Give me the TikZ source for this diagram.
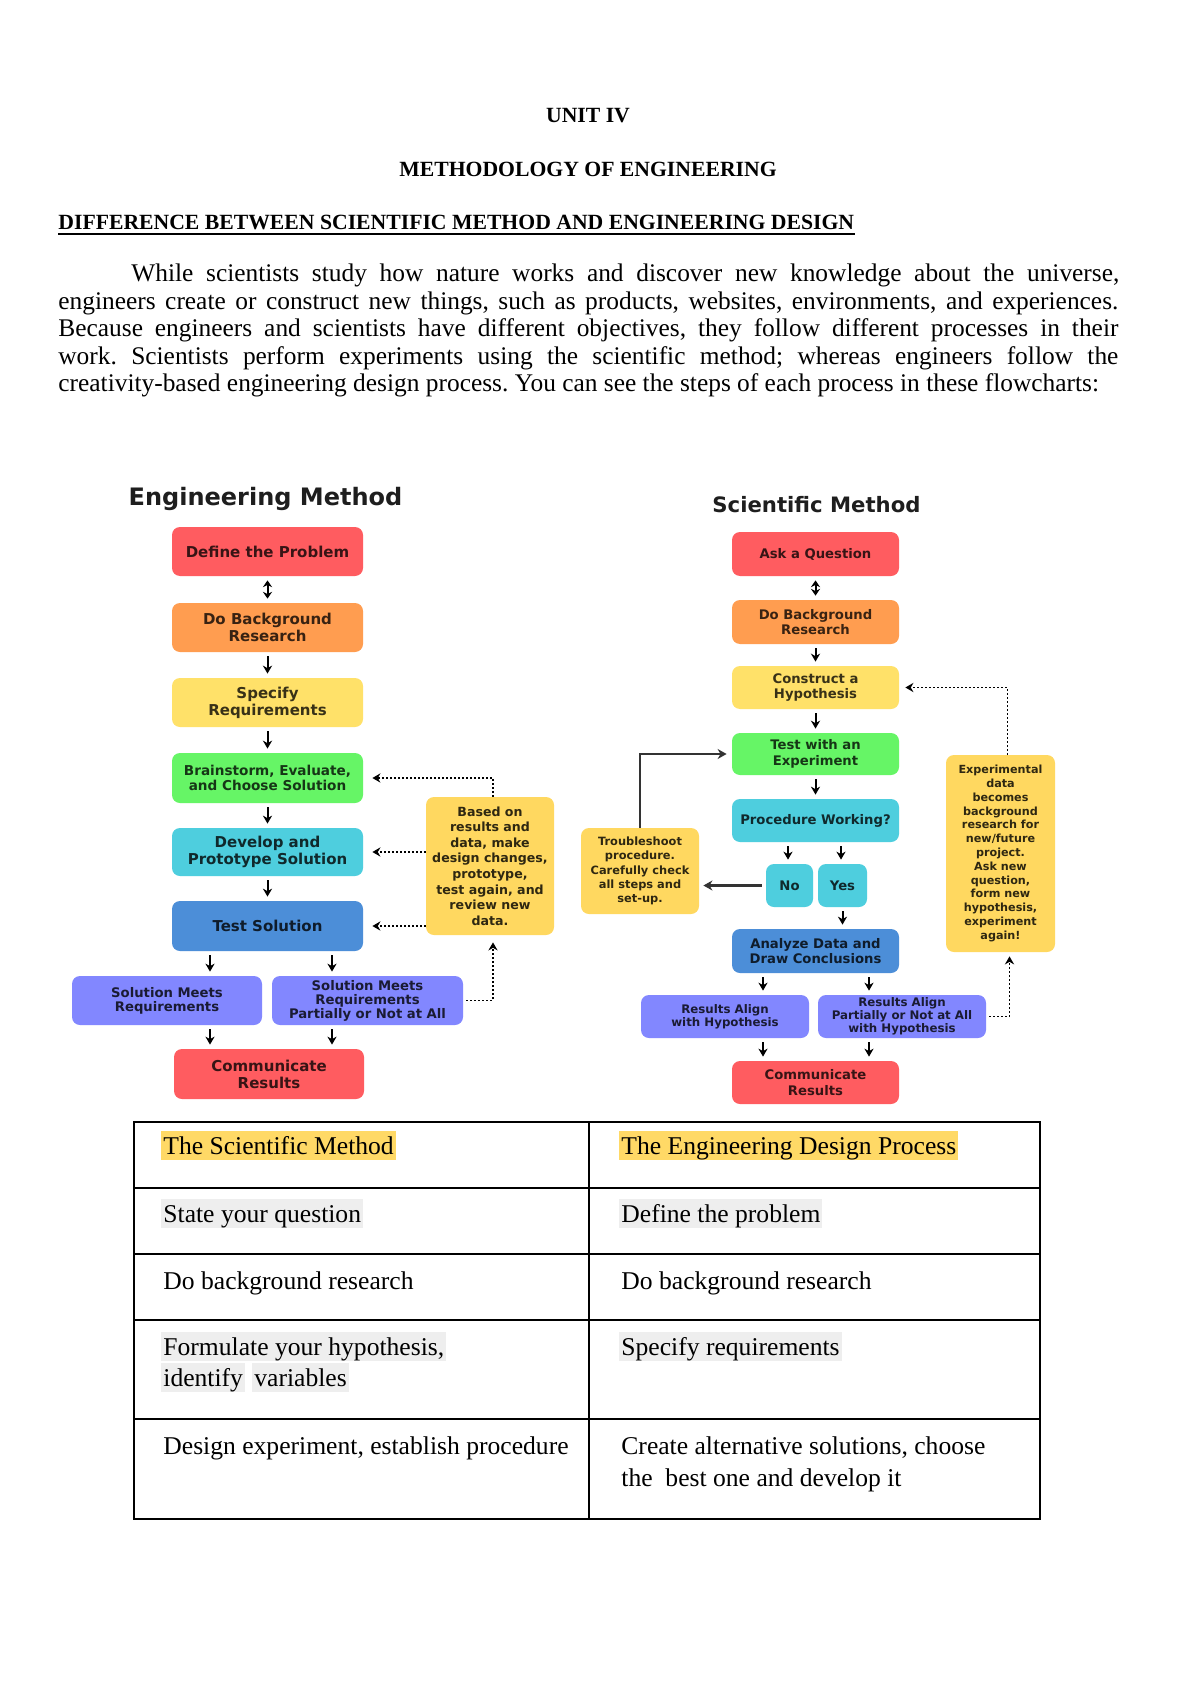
\documentclass[tikz,border=0pt]{standalone}
\usepackage{fontspec}
\setmainfont{Liberation Serif}
\newfontfamily\djv{DejaVu Sans}
\usetikzlibrary{arrows.meta,calc}
\frenchspacing

\definecolor{cRed}{RGB}{255,92,96}
\definecolor{cOrange}{RGB}{255,157,80}
\definecolor{cYellow}{RGB}{255,225,105}
\definecolor{cFb}{RGB}{255,216,96}
\definecolor{cGreen}{RGB}{102,245,102}
\definecolor{cCyan}{RGB}{78,206,222}
\definecolor{cBlue}{RGB}{76,142,216}
\definecolor{cPurple}{RGB}{130,135,255}
\definecolor{hlYellow}{RGB}{255,217,102}
\definecolor{hlGray}{RGB}{238,238,238}
\definecolor{ttl}{RGB}{30,30,30}

\newcommand{\emain}{\djv\bfseries\fontsize{7.5}{8.5}\selectfont}
\newcommand{\ebrain}{\djv\bfseries\fontsize{6.8}{7.6}\selectfont}
\newcommand{\esub}{\djv\bfseries\fontsize{6.6}{7}\selectfont}
\newcommand{\efbf}{\djv\bfseries\fontsize{6.3}{7.8}\selectfont}
\newcommand{\smain}{\djv\bfseries\fontsize{6.6}{7.9}\selectfont}
\newcommand{\sraf}{\djv\bfseries\fontsize{5.9}{6.4}\selectfont}
\newcommand{\strbf}{\djv\bfseries\fontsize{5.7}{7.2}\selectfont}
\newcommand{\sfbf}{\djv\bfseries\fontsize{5.6}{6.9}\selectfont}
\newcommand{\bodyf}{\fontsize{12.7}{15}\selectfont}
\newcommand{\headf}{\bfseries\fontsize{10.85}{13}\selectfont}
\newcommand{\tabf}{\fontsize{12.8}{15}\selectfont}

\tikzset{
  bx/.style={rounded corners=4pt, inner sep=0pt, align=center},
  arr/.style={-{Stealth[length=4pt,width=4.6pt]}, line width=1pt, shorten <=2pt, shorten >=2pt},
  darr/.style={{Stealth[length=3.4pt,width=4.6pt]}-{Stealth[length=3.4pt,width=4.6pt]}, line width=1pt, shorten <=2pt, shorten >=2pt},
  dotarr/.style={-{Stealth[length=4pt,width=4.6pt]}, line width=0.8pt, dash pattern=on 1pt off 1pt},
  solarr/.style={-{Stealth[length=4.5pt,width=5pt]}, line width=1.2pt, draw=black!80},
  txt/.style={inner sep=0pt, anchor=base west},
  hl/.style={inner xsep=1pt, inner ysep=0pt, anchor=base west, text height=11.6pt, text depth=3.2pt, font=\tabf},
}

\begin{document}
\begin{tikzpicture}[x=0.5pt,y=-0.5pt]
\fill[white] (0,0) rectangle (1200,1695);
\useasboundingbox (0,0) rectangle (1200,1695);

% ---------------- header text ----------------
\node[inner sep=0pt, anchor=base, font=\headf] (unit) at (588,122.5) {UNIT IV};
\node[inner sep=0pt, anchor=base, font=\headf] (meth) at (588,176.5) {METHODOLOGY OF ENGINEERING};
\node[txt, font=\headf] (diff) at (58,230) {DIFFERENCE BETWEEN SCIENTIFIC METHOD AND ENGINEERING DESIGN};
\draw[line width=0.6pt] ([yshift=-2pt]diff.base west) -- ([yshift=-2pt]diff.base east);

\node[txt, font=\bodyf] (p1) at (131,282) {\makebox[494pt][s]{While scientists study how nature works and discover new knowledge about the universe,}};
\node[txt, font=\bodyf] (p2) at (58,309.5) {\makebox[530pt][s]{engineers create or construct new things, such as products, websites, environments, and experiences.}};
\node[txt, font=\bodyf] (p3) at (58,337) {\makebox[530pt][s]{Because engineers and scientists have different objectives, they follow different processes in their}};
\node[txt, font=\bodyf] (p4) at (58,364.5) {\makebox[530pt][s]{work. Scientists perform experiments using the scientific method; whereas engineers follow the}};
\node[txt, font=\bodyf] (p5) at (58,392) {creativity-based engineering design process. You can see the steps of each process in these flowcharts:};

% ---------------- Engineering Method ----------------
\node[inner sep=0pt, anchor=base, text=ttl, font=\djv\bfseries\fontsize{12}{14}\selectfont] (etitle) at (265.5,505) {Engineering Method};

\node[bx, fill=cRed, text=cRed!22!black, minimum width=95.5pt, minimum height=24.5pt, font=\emain] (def) at (267.5,551.5) {Define the Problem};
\node[bx, fill=cOrange, text=cOrange!22!black, minimum width=95.5pt, minimum height=24.5pt, font=\emain] (ebg) at (267.5,627.5) {Do Background\\Research};
\node[bx, fill=cYellow, text=cYellow!22!black, minimum width=95.5pt, minimum height=24.5pt, font=\emain] (spec) at (267.5,702.5) {Specify\\Requirements};
\node[bx, fill=cGreen, text=cGreen!22!black, minimum width=95.5pt, minimum height=25pt, font=\ebrain] (brain) at (267.5,778) {Brainstorm, Evaluate,\\and Choose Solution};
\node[bx, fill=cCyan, text=cCyan!20!black, minimum width=95.5pt, minimum height=24pt, font=\emain] (dev) at (267.5,852) {Develop and\\Prototype Solution};
\node[bx, fill=cBlue, text=cBlue!20!black, minimum width=95.5pt, minimum height=25pt, font=\emain] (test) at (267.5,926) {Test Solution};
\node[bx, fill=cPurple, text=cPurple!20!black, minimum width=95pt, minimum height=24.5pt, font=\esub] (smr) at (167,1000.5) {Solution Meets\\Requirements};
\node[bx, fill=cPurple, text=cPurple!20!black, minimum width=95.5pt, minimum height=24.5pt, font=\esub] (smp) at (367.5,1000.5) {Solution Meets\\Requirements\\Partially or Not at All};
\node[bx, fill=cRed, text=cRed!22!black, minimum width=95pt, minimum height=25pt, font=\emain] (ecom) at (269,1074) {Communicate\\Results};
\node[bx, fill=cFb, text=cFb!18!black, minimum width=64pt, minimum height=69pt, font=\efbf] (efb) at (490,866) {Based on\\results and\\data, make\\design changes,\\prototype,\\test again, and\\review new\\data.};

\coordinate (ex1) at (210,0);
\coordinate (ex2) at (332,0);

\draw[darr] (def.south) -- (ebg.north);
\draw[arr] (ebg.south) -- (spec.north);
\draw[arr] (spec.south) -- (brain.north);
\draw[arr] (brain.south) -- (dev.north);
\draw[arr] (dev.south) -- (test.north);
\draw[arr] (test.south -| ex1) -- (smr.north -| ex1);
\draw[arr] (test.south -| ex2) -- (smp.north -| ex2);
\draw[arr] (smr.south -| ex1) -- (ecom.north -| ex1);
\draw[arr] (smp.south -| ex2) -- (ecom.north -| ex2);

\draw[dotarr, shorten >=4.5pt] ([xshift=1.5pt]efb.north) |- (brain.east);
\draw[dotarr, shorten >=4.5pt] (efb.west |- dev.east) -- (dev.east);
\draw[dotarr, shorten >=4.5pt] (efb.west |- test.east) -- (test.east);
\draw[dotarr, shorten <=1.5pt, shorten >=3.5pt] (smp.east) -| ([xshift=1.5pt]efb.south);

% ---------------- Scientific Method ----------------
\node[inner sep=0pt, anchor=base, text=ttl, font=\djv\bfseries\fontsize{10.6}{12}\selectfont] (stitle) at (816.5,512) {Scientific Method};

\node[bx, fill=cRed, text=cRed!22!black, minimum width=83.5pt, minimum height=22pt, font=\smain] (ask) at (815.5,554) {Ask a Question};
\node[bx, fill=cOrange, text=cOrange!22!black, minimum width=83.5pt, minimum height=22pt, font=\smain] (sbg) at (815.5,622) {Do Background\\Research};
\node[bx, fill=cYellow, text=cYellow!22!black, minimum width=83.5pt, minimum height=21.5pt, font=\smain] (hyp) at (815.5,687.5) {Construct a\\Hypothesis};
\node[bx, fill=cGreen, text=cGreen!22!black, minimum width=83.5pt, minimum height=21pt, font=\smain] (exp) at (815.5,754) {Test with an\\Experiment};
\node[bx, fill=cCyan, text=cCyan!20!black, minimum width=83.5pt, minimum height=21.5pt, font=\smain] (proc) at (815.5,820.5) {Procedure Working?};
\node[bx, fill=cCyan, text=cCyan!20!black, minimum width=23.5pt, minimum height=21.5pt, font=\smain] (no) at (789.5,885.5) {No};
\node[bx, fill=cCyan, text=cCyan!20!black, minimum width=24.5pt, minimum height=21.5pt, font=\smain] (yes) at (842.5,885.5) {Yes};
\node[bx, fill=cBlue, text=cBlue!20!black, minimum width=83.5pt, minimum height=22pt, font=\smain] (ana) at (815.5,951) {Analyze Data and\\Draw Conclusions};
\node[bx, fill=cPurple, text=cPurple!20!black, minimum width=84pt, minimum height=21.5pt, font=\sraf] (ra1) at (725,1016.5) {Results Align\\with Hypothesis};
\node[bx, fill=cPurple, text=cPurple!20!black, minimum width=84pt, minimum height=21.5pt, font=\sraf] (ra2) at (902,1016.5) {Results Align\\Partially or Not at All\\with Hypothesis};
\node[bx, fill=cRed, text=cRed!22!black, minimum width=83.5pt, minimum height=21.5pt, font=\smain] (scom) at (815.5,1082.5) {Communicate\\Results};
\node[bx, fill=cFb, text=cFb!18!black, minimum width=59pt, minimum height=43pt, font=\strbf] (trb) at (640,871) {Troubleshoot\\procedure.\\Carefully check\\all steps and\\set-up.};
\node[bx, fill=cFb, text=cFb!18!black, minimum width=54.5pt, minimum height=98.5pt, font=\sfbf] (sfb) at (1000.5,853.5) {Experimental\\data\\becomes\\background\\research for\\new/future\\project.\\Ask new\\question,\\form new\\hypothesis,\\experiment\\again!};

\coordinate (sx1) at (788,0);
\coordinate (sx2) at (841,0);
\coordinate (sx3) at (763,0);
\coordinate (sx4) at (869,0);

\draw[darr] (ask.south) -- (sbg.north);
\draw[arr] (sbg.south) -- (hyp.north);
\draw[arr] (hyp.south) -- (exp.north);
\draw[arr] (exp.south) -- (proc.north);
\draw[arr] (proc.south -| sx1) -- (no.north -| sx1);
\draw[arr] (proc.south -| sx2) -- (yes.north -| sx2);
\draw[arr] (yes.south) -- (ana.north -| yes.south);
\draw[arr] (ana.south -| sx3) -- (ra1.north -| sx3);
\draw[arr] (ana.south -| sx4) -- (ra2.north -| sx4);
\draw[arr] (ra1.south -| sx3) -- (scom.north -| sx3);
\draw[arr] (ra2.south -| sx4) -- (scom.north -| sx4);

\draw[solarr, line width=1.5pt, shorten <=2pt, shorten >=2pt] (no.west) -- (trb.east |- no.west);
\draw[solarr, shorten >=2.5pt] (trb.north) |- (exp.west);

\draw[dotarr, shorten >=3pt] ([xshift=3.5pt]sfb.north) |- (hyp.east);
\draw[dotarr, shorten <=1.5pt, shorten >=2pt] (ra2.east) -| ([xshift=4.5pt]sfb.south);

% ---------------- Table ----------------
\draw[line width=1.3pt] (134,1122) rectangle (1040,1519);
\draw[line width=1.3pt] (134,1188) -- (1040,1188);
\draw[line width=1.3pt] (134,1254) -- (1040,1254);
\draw[line width=1.3pt] (134,1320) -- (1040,1320);
\draw[line width=1.3pt] (134,1419) -- (1040,1419);
\draw[line width=1.3pt] (589,1122) -- (589,1519);

\node[hl, fill=hlYellow] (t11) at (161,1154) {The Scientific Method};
\node[hl, fill=hlYellow] (t12) at (619,1154) {The Engineering Design Process};
\node[hl, fill=hlGray] (t21) at (161,1222) {State your question};
\node[hl, fill=hlGray] (t22) at (619,1222) {Define the problem};
\node[hl] (t31) at (161,1289) {Do background research};
\node[hl] (t32) at (619,1289) {Do background research};
\node[hl, fill=hlGray] (t41) at (161,1355) {Formulate your hypothesis,};
\node[hl, fill=hlGray] (t41b) at (161,1386) {identify};
\node[hl, fill=hlGray] (t41c) at (252,1386) {variables};
\node[hl, fill=hlGray] (t42) at (619,1355) {Specify requirements};
\node[hl] (t51) at (161,1454) {Design experiment, establish procedure};
\node[hl] (t52) at (619,1454) {Create alternative solutions, choose};
\node[hl] (t52b) at (619,1486) {the\ \ best one and develop it};

\end{tikzpicture}
\end{document}
